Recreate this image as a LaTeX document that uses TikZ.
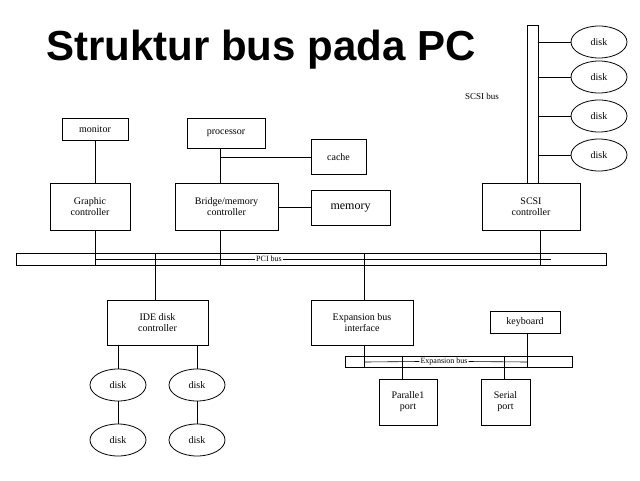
\documentclass[tikz,border=0pt]{standalone}
\usepackage{fontspec}
\usetikzlibrary{shapes.geometric}
\setmainfont{Liberation Serif}
\newfontfamily\titlefont{Liberation Sans}
\begin{document}
\begin{tikzpicture}[x=1pt,y=-1pt,
 box/.style={draw,line width=0.8pt,inner sep=0pt,font=\fontsize{10}{11}\selectfont,align=center},
 dsk/.style={draw,line width=0.8pt,ellipse,minimum width=56pt,minimum height=32pt,inner sep=0pt,font=\fontsize{10}{11}\selectfont},
 ln/.style={line width=0.8pt},
 thin/.style={line width=0.6pt}]
\useasboundingbox (0,0) rectangle (640,480);
\node[font=\titlefont\bfseries\fontsize{42}{46}\selectfont] (title) at (261,50) {Struktur bus pada PC};
\node[box,minimum width=66pt,minimum height=22pt] (mon) at (95,129) {monitor};
\node[box,minimum width=80pt,minimum height=47pt] (gc) at (90,206.5) {Graphic\\controller};
\node[box,minimum width=78pt,minimum height=30pt] (proc) at (226,133) {processor};
\node[box,minimum width=55pt,minimum height=35pt] (cache) at (338.5,157) {cache};
\node[box,minimum width=103pt,minimum height=47pt] (br) at (226.5,206.5) {Bridge/memory\\controller};
\node[box,minimum width=79pt,minimum height=35pt,font=\fontsize{12}{13}\selectfont] (mem) at (350.5,207.5) {memory};
\node[box,minimum width=98pt,minimum height=47pt] (scsi) at (531,206.5) {SCSI\\controller};
\node[box,minimum width=101pt,minimum height=45pt] (ide) at (157.5,322.5) {IDE disk\\controller};
\node[box,minimum width=102pt,minimum height=45pt] (exp) at (362,322.5) {Expansion bus\\interface};
\node[box,minimum width=70pt,minimum height=22pt] (kb) at (525,322) {keyboard};
\node[box,minimum width=58pt,minimum height=46pt] (par) at (408,402) {Paralle1\\port};
\node[box,minimum width=49pt,minimum height=46pt] (ser) at (505.5,402) {Serial\\port};
\node[dsk] (s1) at (599,42) {disk};
\node[dsk] (s2) at (599,77) {disk};
\node[dsk] (s3) at (599,116) {disk};
\node[dsk] (s4) at (599,155) {disk};
\node[dsk] (d1) at (118,385) {disk};
\node[dsk] (d2) at (197,385) {disk};
\node[dsk] (d3) at (118,440) {disk};
\node[dsk] (d4) at (197,440) {disk};
\node[draw,thin,minimum width=590pt,minimum height=12pt,inner sep=0pt] (pci) at (311,259) {};
\coordinate (pl) at (96,259); \coordinate (pr) at (551,259);
\node[fill=white,inner sep=1pt,font=\fontsize{8}{9}\selectfont] (pcil) at (269,259) {PCI bus};
\draw[thin] (pl) -- (pcil.west) (pcil.east) -- (pr);
\node[draw,thin,minimum width=227pt,minimum height=11pt,inner sep=0pt] (eb) at (458.5,361.5) {};
\coordinate (el) at (365,362); \coordinate (er) at (527,362);
\node[fill=white,inner sep=1pt,font=\fontsize{8}{9}\selectfont] (ebl) at (444,361.5) {Expansion bus};
\draw[thin] (el) -- (ebl.west) (ebl.east) -- (er);
\node[draw,thin,minimum width=11pt,minimum height=158pt,inner sep=0pt] (sb) at (532.5,104) {};
\node[font=\fontsize{9}{10}\selectfont] (sbl) at (482,96) {SCSI bus};
% x positions of vertical links
\coordinate (xa) at (95,0);
\coordinate (xb) at (220,0);
\coordinate (xc) at (540,0);
\coordinate (xd) at (155,0);
\coordinate (xe) at (364,0);
\coordinate (xf) at (527,0);
\coordinate (xg) at (402,0);
\coordinate (xh) at (504,0);
\coordinate (xi) at (118,0);
\coordinate (xj) at (197,0);
\draw[ln] (xa |- mon.south) -- (xa |- gc.north);
\draw[ln] (xa |- gc.south) -- (xa |- pci.south);
\draw[ln] (xb |- proc.south) -- (xb |- br.north);
\draw[ln] (xb |- cache.west) -- (cache.west);
\draw[ln] (br.east |- mem.west) -- (mem.west);
\draw[ln] (xb |- br.south) -- (xb |- pci.south);
\draw[ln] (xc |- scsi.south) -- (xc |- pci.south);
\draw[ln] (xd |- pci.north) -- (xd |- ide.north);
\draw[ln] (xe |- pci.north) -- (xe |- exp.north);
\foreach \s in {s1,s2,s3,s4} \draw[ln] (sb.east |- \s) -- (\s.west);
\draw[ln] (xi |- ide.south) -- (d1); \draw[ln] (xj |- ide.south) -- (d2);
\draw[ln] (d1) -- (d3); \draw[ln] (d2) -- (d4);
\draw[ln] (xe |- exp.south) -- (xe |- eb.south);
\draw[ln] (xf |- kb.south) -- (xf |- eb.south);
\draw[ln] (xg |- eb.north) -- (xg |- par.north);
\draw[ln] (xh |- eb.north) -- (xh |- ser.north);
\end{tikzpicture}
\end{document}
